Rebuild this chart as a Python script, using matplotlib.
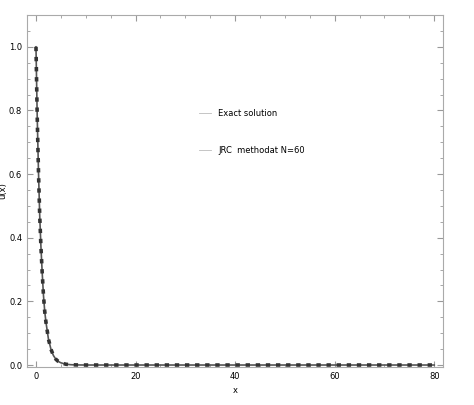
import matplotlib
matplotlib.use("Agg")
import matplotlib.pyplot as plt
from matplotlib.ticker import MultipleLocator

# values
x_vals = [0, 0.25, 0.5, 0.75, 1.0, 1.25, 1.5, 1.75, 2.0, 2.5, 3.0, 3.5, 4.0, 4.5, 5.0,
          6.0, 7.0, 8.0, 10, 15, 20, 30, 40, 50, 60, 70, 80]
u_exact = [1.0, 0.78, 0.61, 0.47, 0.37, 0.29, 0.22, 0.17, 0.135, 0.082, 0.05, 0.03,
           0.018, 0.011, 0.007, 0.0025, 0.001, 0.0003, 0.0, 0.0, 0.0, 0.0, 0.0, 0.0, 0.0, 0.0, 0.0]
u_jrc = u_exact

plt.rcParams['font.family'] = ['Liberation Sans Narrow', 'DejaVu Sans']

fig = plt.figure(figsize=(4.74, 4.05), dpi=100)
ax = fig.add_axes([0.057, 0.094, 0.878, 0.869])

ax.plot(x_vals, u_exact, color='#555555', lw=1.2, label='Exact solution')
ax.plot(x_vals, u_jrc, color='#333333', lw=2.6, ls=(0, (1.2, 1.6)), label='JRC  methodat N=60')

ax.set_xlim(-1.8, 81.8)
ax.set_ylim(-0.006, 1.10)
ax.xaxis.set_major_locator(MultipleLocator(20))
ax.xaxis.set_minor_locator(MultipleLocator(5))
ax.yaxis.set_major_locator(MultipleLocator(0.2))
ax.yaxis.set_minor_locator(MultipleLocator(0.05))
ax.tick_params(which='both', direction='in', top=True, right=True, labelsize=6, color='#999999')
ax.tick_params(which='major', length=4)
ax.tick_params(which='minor', length=2)
for s in ax.spines.values():
    s.set_color('#aaaaaa')
ax.set_xlabel('x', fontsize=6)
ax.set_ylabel('u(x)', fontsize=6, labelpad=1)

leg = ax.legend(loc='upper left', bbox_to_anchor=(0.395, 0.755), frameon=False,
                fontsize=6, labelspacing=3.4, handlelength=1.5)
for h in leg.get_lines():
    h.set_linewidth(0.6)
    h.set_linestyle('-')
    h.set_color('#bbbbbb')

fig.savefig('out.png', dpi=100)
